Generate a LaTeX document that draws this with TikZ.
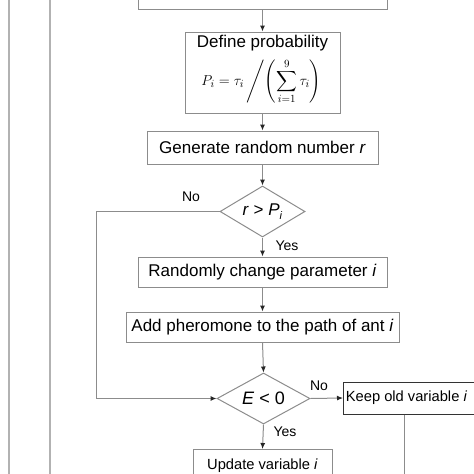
\documentclass[tikz,border=0pt]{standalone}
\usepackage{exscale}
\usepackage{amsmath}
\usepackage{fontspec}
\setmainfont{Liberation Sans}
\usetikzlibrary{arrows.meta,shapes.geometric}
\begin{document}
\begin{tikzpicture}[x=1pt,y=-1pt,
  line width=1pt,
  ln/.style={draw=black!45},
  arr/.style={ln,-{Latex[length=6pt,width=5pt,color=black!85]}},
  box/.style={draw=black!45,rectangle,inner sep=0pt,font=\fontsize{17}{20}\selectfont},
  sbox/.style={box,font=\fontsize{14.7}{17}\selectfont},
  dec/.style={draw=black!45,diamond,inner sep=0pt,font=\fontsize{17}{20}\selectfont},
  lbl/.style={font=\fontsize{14}{16}\selectfont,inner sep=0pt}]
\useasboundingbox (0,0) rectangle (474,474);
\clip (0,0) rectangle (474,474);
% left frame lines
\coordinate (l1t) at (9,-5); \coordinate (l1b) at (9,480);
\coordinate (l2t) at (50,-5); \coordinate (l2b) at (50,480);
\draw[draw=black!30,line width=1.5pt] (l1t) -- (l1b);
\draw[draw=black!30,line width=1.5pt] (l2t) -- (l2b);
% nodes
\node[box,minimum width=249pt,minimum height=40pt] (top) at (262.5,-11) {};
\node[box,minimum width=155pt,minimum height=81pt] (def) at (262.5,72.5) {};
\node[inner sep=0pt,font=\fontsize{17}{20}\selectfont] (deft) at (262.5,43) {Define probability};
\node[inner sep=0pt,font=\fontsize{15}{18}\selectfont] (form) at (262,81.5) {$\displaystyle P_i=\tau_i\left/\left(\sum_{i=1}^{9}\tau_i\right)\right.$};
\node[box,minimum width=231pt,minimum height=33pt] (gen) at (262.5,147.5) {Generate random number \textit{r}};
\node[dec,minimum width=85pt,minimum height=51pt,aspect=1.667] (d1) at (262.5,211.5) {\textit{r} > \textit{P}\raisebox{-3.5pt}{\fontsize{11}{12}\selectfont\textit{i}}};
\node[box,minimum width=249pt,minimum height=30pt] (ran) at (262.5,272) {Randomly change parameter \textit{i}};
\node[box,minimum width=273pt,minimum height=30pt] (add) at (262.5,327) {Add pheromone to the path of ant \textit{i}};
\node[dec,minimum width=93pt,minimum height=51pt,aspect=1.82] (d2) at (263.5,398.5) {\fontsize{18}{20}\selectfont\textit{E} < 0};
\node[sbox,draw=black!80,minimum width=134pt,minimum height=32pt,anchor=west] (keep) at (343,398) {\hspace*{-4pt}Keep old variable \textit{i}\hspace*{4pt}};
\node[sbox,minimum width=139pt,minimum height=32pt,anchor=north] (upd) at (262.5,449) {Update variable \textit{i}};
\node[lbl] (no1) at (191,197) {No};
\node[lbl] (yes1) at (287,246) {Yes};
\node[lbl] (no2) at (319,386) {No};
\node[lbl] (yes2) at (285,432) {Yes};
\coordinate (kb) at (404,480);
\coordinate (c1) at (96,211.5);
% connectors
\draw[arr] (top.south) -- (def.north);
\draw[arr] (def.south) -- (gen.north);
\draw[arr] (gen.south) -- (d1.north);
\draw[arr] (d1.south) -- (ran.north);
\draw[arr] (ran.south) -- (add.north);
\draw[arr] (add.south) -- (d2.north);
\draw[arr] (d1.west) -- (c1) |- (d2.west);
\draw[arr] (d2.east) -- (keep.west);
\draw[arr] (d2.south) -- (upd.north);
\draw[ln] (keep.south -| kb) -- (kb);
\end{tikzpicture}
\end{document}
